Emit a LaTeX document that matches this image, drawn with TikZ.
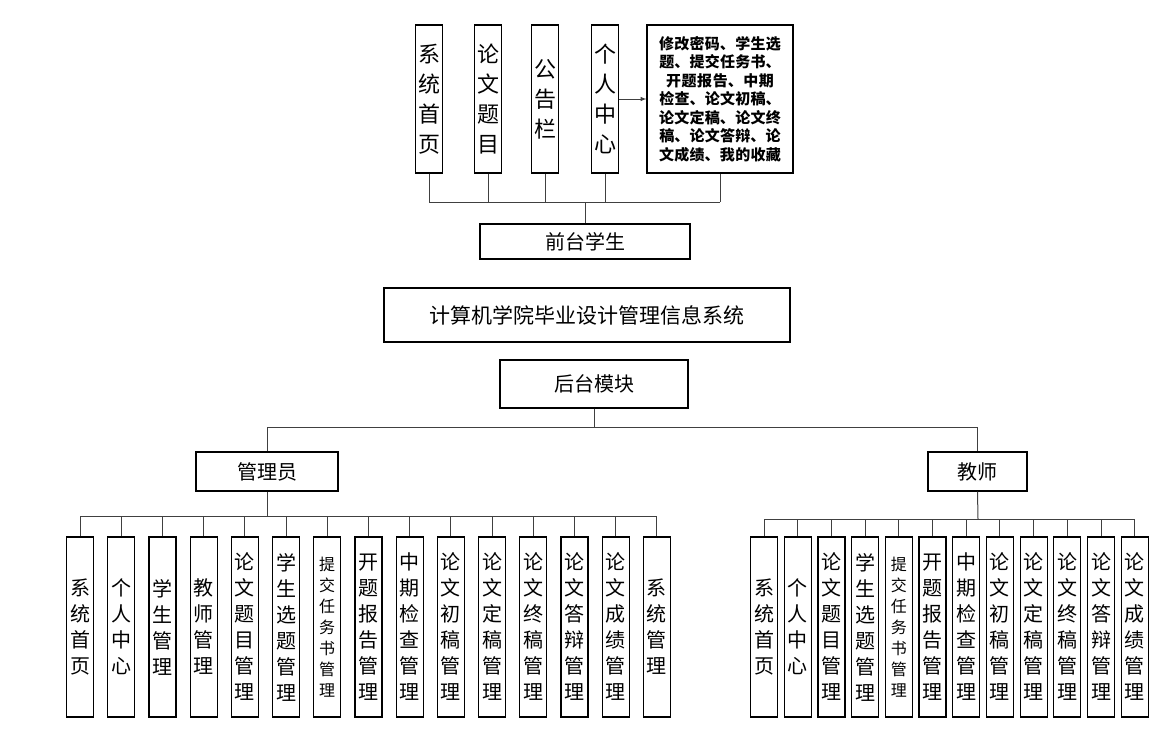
\documentclass[tikz,border=0pt]{standalone}
\usepackage{fontspec}
\newfontfamily\cjk{Noto Sans CJK SC}
\XeTeXlinebreaklocale "zh"
\XeTeXlinebreakskip=0pt plus 1pt
\begin{document}
\begin{tikzpicture}[x=1pt,y=-1pt,
  box/.style={draw,line width=1.2pt,inner sep=0pt,align=center,font=\cjk},
  vb/.style={box,minimum width=27pt,minimum height=180pt,text width=20pt,font=\cjk\fontsize{20}{26}\selectfont},
  vs/.style={vb,font=\cjk\fontsize{16}{21}\selectfont},
  tb/.style={box,minimum width=27pt,minimum height=148pt,text width=22pt,font=\cjk\fontsize{22}{30}\selectfont},
  ln/.style={draw,black!75,line width=1pt}]
\useasboundingbox (0,0) rectangle (1151,732);
% top
\node[tb] (t1) at (429,99) {系\\统\\首\\页};
\node[tb] (t2) at (488,99) {论\\文\\题\\目};
\node[tb] (t3) at (545,99) {公\\告\\栏};
\node[tb] (t4) at (605,99) {个\\人\\中\\心};
\node[box,minimum width=146pt,minimum height=148pt,text width=138pt,font=\cjk\bfseries\fontsize{15}{18.5}\selectfont] (t5) at (720,99)
 {修改密码、学生选题、提交任务书、开题报告、中期检查、论文初稿、论文定稿、论文终稿、论文答辩、论文成绩、我的收藏};
\draw[ln,-latex] (t4.east) -- (t5.west);
\node[box,minimum width=210pt,minimum height=35pt,font=\cjk\fontsize{20}{24}\selectfont] (qt) at (585,241.5) {前台学生};
\node[box,minimum width=406pt,minimum height=54pt,font=\cjk\fontsize{21}{24}\selectfont] (sys) at (587,315) {计算机学院毕业设计管理信息系统};
\node[box,minimum width=188pt,minimum height=48pt,font=\cjk\fontsize{20}{24}\selectfont] (ht) at (594,384) {后台模块};
\coordinate (tb) at (585,202);
\foreach \n in {t1,t2,t3,t4,t5} \draw[ln] (\n.south) -- (\n.south |- tb);
\draw[ln] (t1.south |- tb) -- (t5.south |- tb);
\draw[ln] (tb) -- (qt.north);
\node[box,minimum width=142pt,minimum height=39pt,font=\cjk\fontsize{20}{24}\selectfont] (gly) at (267,471.5) {管理员};
\node[box,minimum width=99pt,minimum height=39pt,font=\cjk\fontsize{20}{24}\selectfont] (js) at (977.5,471.5) {教师};
\coordinate (hb) at (594,427);
\draw[ln] (ht.south) -- (hb);
\draw[ln] (gly.north) -- (gly.north |- hb) -- (js.north |- hb) -- (js.north);
% admin
\foreach \i/\t in {0/{系\\统\\首\\页},1/{个\\人\\中\\心},2/{学\\生\\管\\理},3/{教\\师\\管\\理},4/{论\\文\\题\\目\\管\\理},5/{学\\生\\选\\题\\管\\理},7/{开\\题\\报\\告\\管\\理},8/{中\\期\\检\\查\\管\\理},9/{论\\文\\初\\稿\\管\\理},10/{论\\文\\定\\稿\\管\\理},11/{论\\文\\终\\稿\\管\\理},12/{论\\文\\答\\辩\\管\\理},13/{论\\文\\成\\绩\\管\\理},14/{系\\统\\管\\理}}
  \node[vb] (a\i) at (80+41.2*\i,627) {\t};
\node[vs] (a6) at (80+41.2*6,627) {提\\交\\任\\务\\书\\管\\理};
\coordinate (ab) at (267,516);
\draw[ln] (gly.south) -- (ab);
\draw[ln] (a0.north |- ab) -- (a14.north |- ab);
\foreach \i in {0,...,14} \draw[ln] (a\i.north) -- (a\i.north |- ab);
% teacher
\foreach \i/\t in {0/{系\\统\\首\\页},1/{个\\人\\中\\心},2/{论\\文\\题\\目\\管\\理},3/{学\\生\\选\\题\\管\\理},5/{开\\题\\报\\告\\管\\理},6/{中\\期\\检\\查\\管\\理},7/{论\\文\\初\\稿\\管\\理},8/{论\\文\\定\\稿\\管\\理},9/{论\\文\\终\\稿\\管\\理},10/{论\\文\\答\\辩\\管\\理},11/{论\\文\\成\\绩\\管\\理}}
  \node[vb] (b\i) at (764+33.7*\i,627) {\t};
\node[vs] (b4) at (764+33.7*4,627) {提\\交\\任\\务\\书\\管\\理};
\coordinate (bb) at (978,519);
\draw[ln] (js.south) -- (bb);
\draw[ln] (b0.north |- bb) -- (b11.north |- bb);
\foreach \i in {0,...,11} \draw[ln] (b\i.north) -- (b\i.north |- bb);
\end{tikzpicture}
\end{document}
